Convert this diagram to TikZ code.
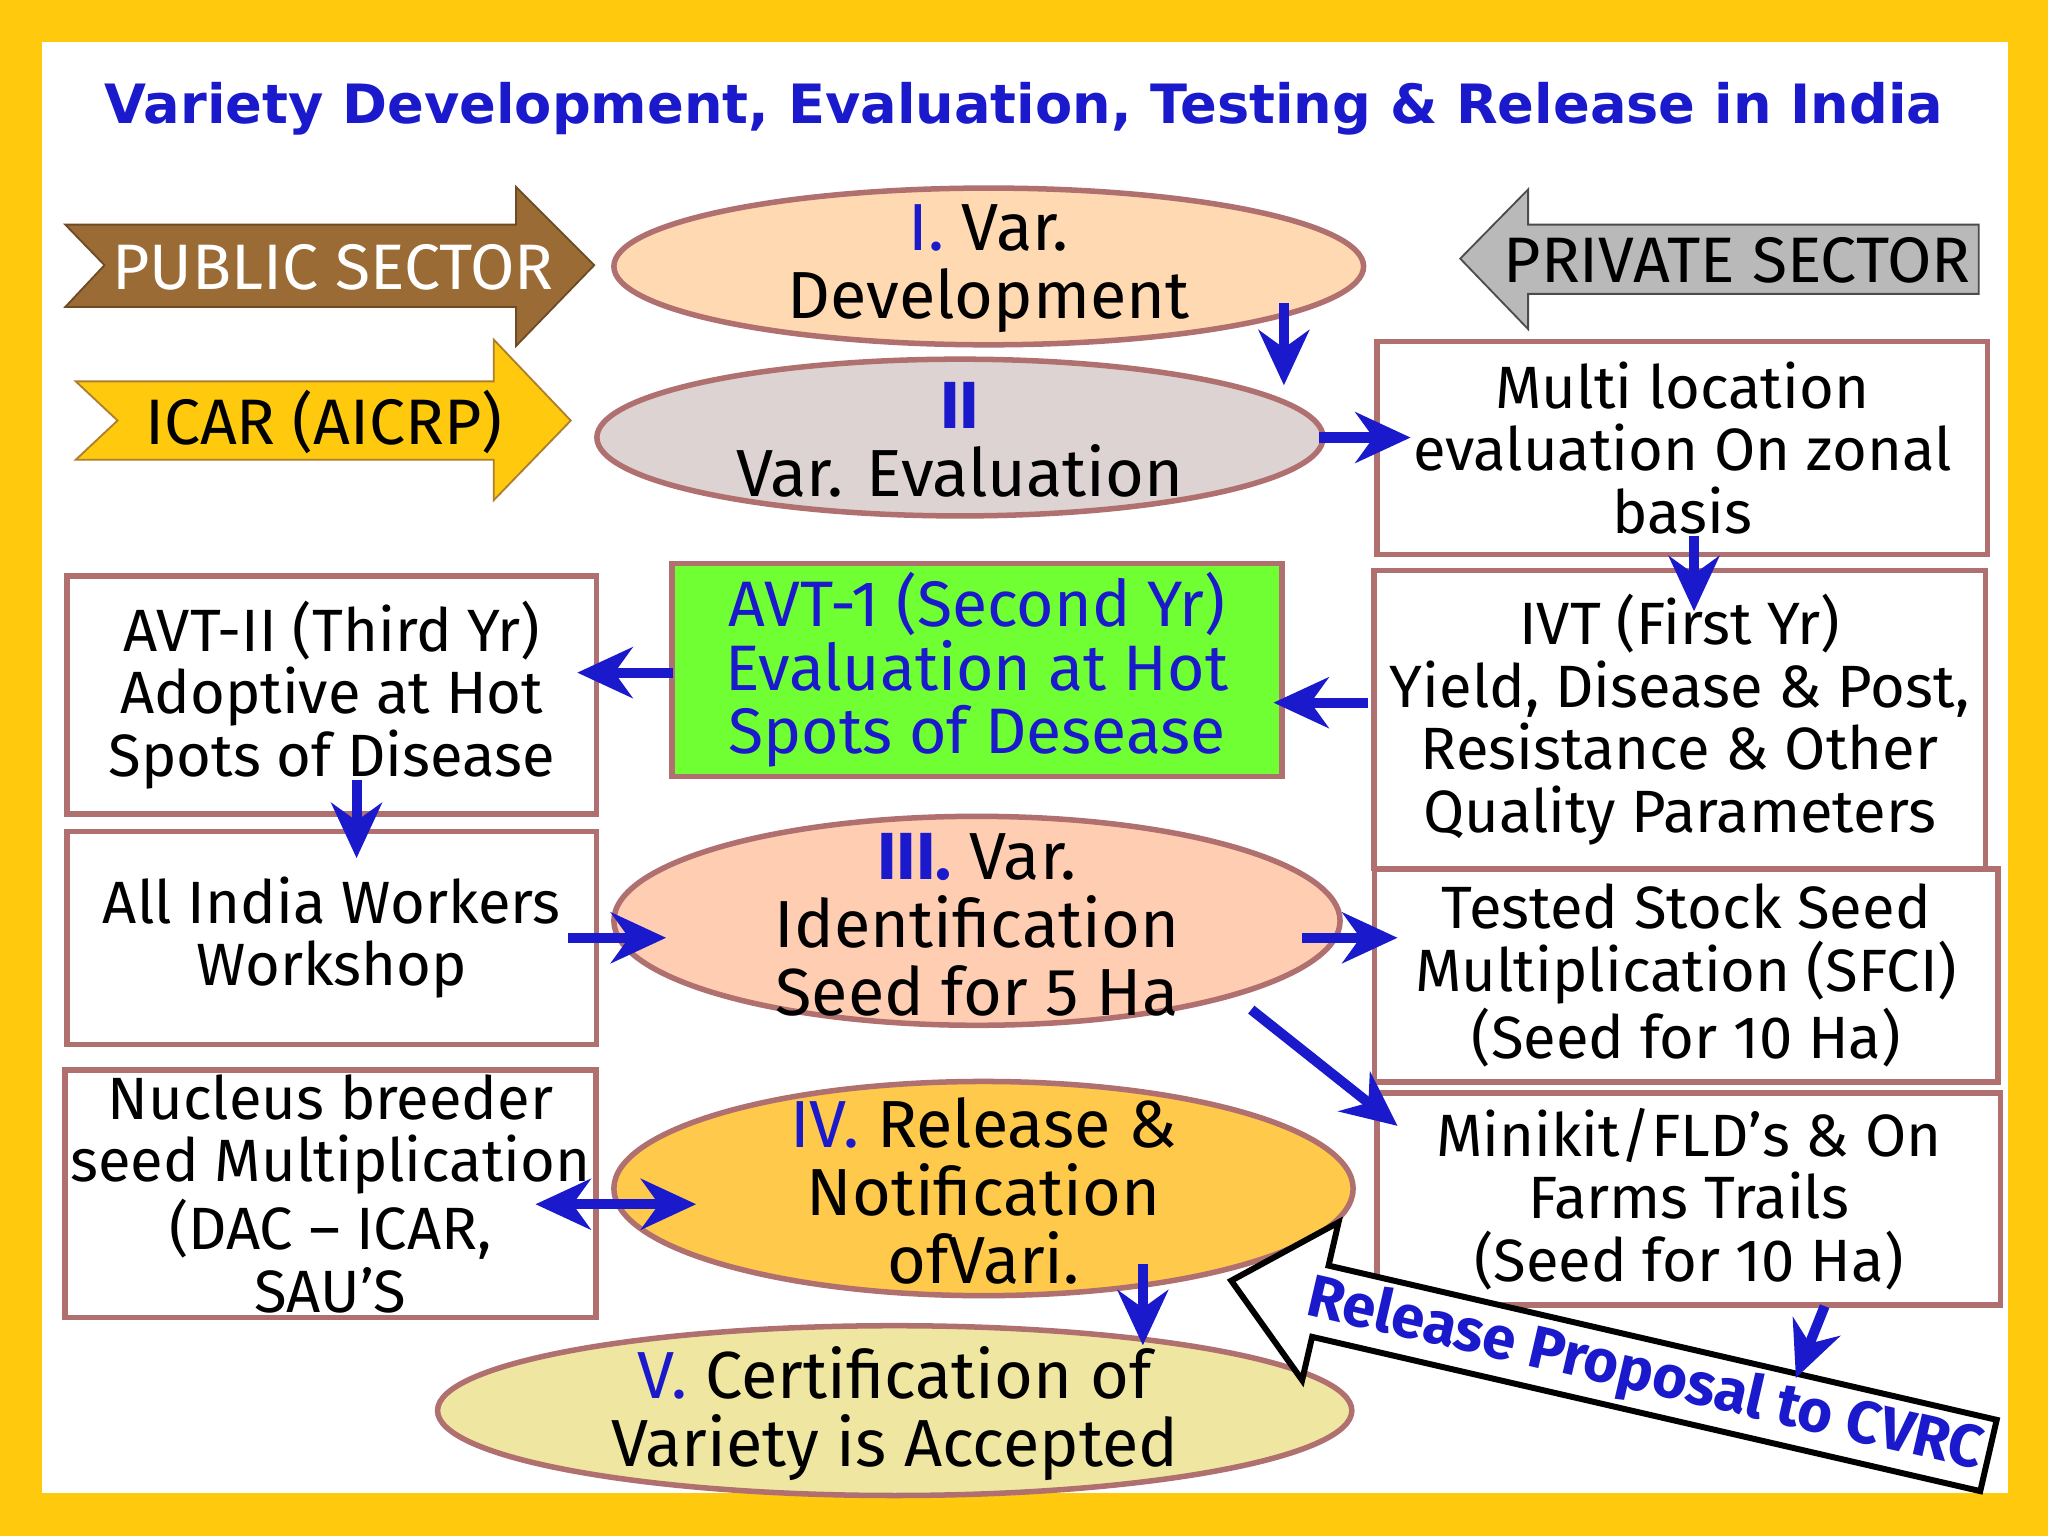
\documentclass[tikz,border=0pt]{standalone}
\usepackage{fontspec}
\setmainfont{Fira Sans}
\newfontfamily\titlefont{DejaVu Sans}
\usetikzlibrary{arrows.meta}
\definecolor{ylw}{HTML}{FFC90E}
\definecolor{blu}{HTML}{1A1ACC}
\definecolor{brn}{HTML}{9B6B35}
\definecolor{bord}{HTML}{B07070}
\tikzset{
 bx/.style={draw=bord,line width=1.2pt,align=center,inner sep=1pt,font=\fontsize{13}{13.6}\selectfont},
 et/.style={font=\fontsize{14.5}{14.8}\selectfont,align=center},
 bar/.style={-{Stealth[length=12pt,width=11pt]},draw=blu,line width=2.2pt},
}
\begin{document}
\begin{tikzpicture}[x=0.01cm,y=-0.01cm]
\useasboundingbox (0,0) rectangle (1568,1176);
\fill[ylw] (0,0) rectangle (1568,1176);
\fill[white] (32,32) rectangle (1537,1143);
\node[font=\titlefont\bfseries\fontsize{11.8}{15}\selectfont,text=blu] (title) at (784,83) {Variety Development, Evaluation, Testing \& Release in India};
% sector arrows
\draw[fill=brn,draw=brn!70!black] (50,172) -- (395,172) -- (395,143) -- (455,203) -- (395,265) -- (395,235) -- (50,235) -- (80,203) -- cycle;
\node[text=white,font=\fontsize{14}{16}\selectfont] (pub) at (255,205) {PUBLIC SECTOR};
\draw[fill=ylw,draw=brn!80!ylw] (58,292) -- (378,292) -- (378,260) -- (437,322) -- (378,383) -- (378,352) -- (58,352) -- (90,322) -- cycle;
\node[font=\fontsize{14}{16}\selectfont] (icar) at (248,323) {ICAR (AICRP)};
\draw[fill=gray!55,draw=black!70] (1515,172) -- (1170,172) -- (1170,145) -- (1118,198) -- (1170,252) -- (1170,225) -- (1515,225) -- cycle;
\node[font=\fontsize{14}{16}\selectfont] (priv) at (1330,199) {PRIVATE SECTOR};
% ellipses
\draw[draw=bord,line width=1.2pt,fill=orange!30] (757,204) ellipse [x radius=287,y radius=60];
\node[et] (e1) at (757,206) {\textcolor{blu}{I.} Var.\\Development};
\draw[draw=bord,line width=1.2pt,fill=red!15!gray!30] (735,335) ellipse [x radius=278,y radius=60];
\node[et] (e2) at (735,337) {\textcolor{blu}{\bfseries II}\\Var. Evaluation};
\draw[draw=bord,line width=1.2pt,fill=red!30!orange!30] (748,705) ellipse [x radius=278,y radius=80];
\node[et] (e3) at (748,708) {\textcolor{blu}{\bfseries III.} Var.\\Identification\\Seed for 5 Ha};
\draw[draw=bord,line width=1.2pt,fill=orange!60!yellow!70] (753,910) ellipse [x radius=283,y radius=82];
\node[et] (e4) at (753,912) {\textcolor{blu}{IV.} Release \&\\Notification\\ofVari.};
\draw[draw=bord,line width=1.2pt,fill=brn!40!yellow!40] (685,1080) ellipse [x radius=350,y radius=65];
\node[et] (e5) at (685,1082) {\textcolor{blu}{V.} Certification of\\Variety is Accepted};
% boxes
\node[bx,minimum width=4.67cm,minimum height=1.63cm] (multi) at (1288,343) {Multi location\\evaluation On zonal\\basis};
\node[bx,minimum width=4.68cm,minimum height=2.28cm] (ivt) at (1286,551) {IVT (First Yr)\\Yield, Disease \& Post,\\Resistance \& Other\\Quality Parameters};
\node[bx,fill=green!60!lime!80,minimum width=4.67cm,minimum height=1.63cm,text=blu,font=\fontsize{14}{13.8}\selectfont] (avt1) at (748,513) {AVT-1 (Second Yr)\\Evaluation at Hot\\Spots of Desease};
\node[bx,minimum width=4.05cm,minimum height=1.82cm] (avt2) at (254,532) {AVT-II (Third Yr)\\Adoptive at Hot\\Spots of Disease};
\node[bx,minimum width=4.05cm,minimum height=1.63cm] (allind) at (254,718) {All India Workers\\Workshop};
\node[bx,fill=white,minimum width=4.77cm,minimum height=1.63cm] (tested) at (1291,747) {Tested Stock Seed\\Multiplication (SFCI)\\(Seed for 10 Ha)};
\node[bx,minimum width=4.77cm,minimum height=1.62cm] (mini) at (1293,918) {Minikit/FLD's \& On\\Farms Trails\\(Seed for 10 Ha)};
\node[bx,minimum width=4.06cm,minimum height=1.82cm] (nuc) at (253,914) {Nucleus breeder\\seed Multiplication\\(DAC -- ICAR,\\SAU'S};
% release proposal arrow
\begin{scope}[shift={(1235,1048)},rotate=-13,transform shape]
\draw[fill=white,line width=1.3pt] (295,-28) -- (-230,-28) -- (-230,-62) -- (-300,0) -- (-230,62) -- (-230,28) -- (295,28) -- cycle;
\node[text=blu,font=\bfseries\fontsize{13}{16}\selectfont] (rel) at (25,0) {Release Proposal to CVRC};
\end{scope}
% connectors
\coordinate (a1) at (983,232); \coordinate (a2) at (983,295);
\draw[bar] (a1) -- (a2);
\coordinate (b1) at (1010,335); \coordinate (b2) at (1080,335); \draw[bar] (b1) -- (b2);
\coordinate (c1) at (1297,410); \coordinate (c2) at (1297,468); \draw[bar] (c1) -- (c2);
\coordinate (d1) at (1047,538); \coordinate (d2) at (975,538); \draw[bar] (d1) -- (d2);
\coordinate (f1) at (515,515); \coordinate (f2) at (442,515); \draw[bar] (f1) -- (f2);
\coordinate (g1) at (273,597); \coordinate (g2) at (273,657); \draw[bar] (g1) -- (g2);
\coordinate (h1) at (435,718); \coordinate (h2) at (510,718); \draw[bar] (h1) -- (h2);
\coordinate (i1) at (997,718); \coordinate (i2) at (1070,718); \draw[bar] (i1) -- (i2);
\coordinate (j1) at (958,773); \coordinate (j2) at (1070,862); \draw[bar] (j1) -- (j2);
\coordinate (k1) at (410,922); \coordinate (k2) at (533,922); \draw[bar,{Stealth[length=12pt,width=11pt]}-{Stealth[length=12pt,width=11pt]}] (k1) -- (k2);
\coordinate (l1) at (875,968); \coordinate (l2) at (875,1030); \draw[bar] (l1) -- (l2);
\coordinate (m1) at (1397,1000); \coordinate (m2) at (1375,1055); \draw[bar] (m1) -- (m2);
\end{tikzpicture}
\end{document}
